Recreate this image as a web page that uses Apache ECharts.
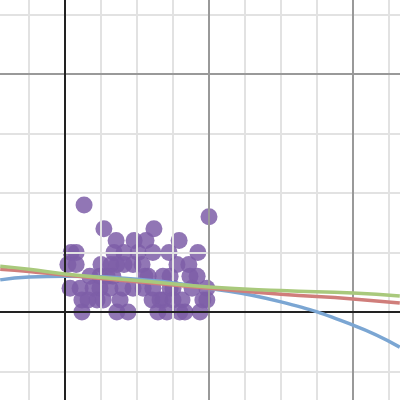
<!DOCTYPE html>
<html>
<head>
<meta charset="utf-8">
<script src="https://cdn.jsdelivr.net/npm/echarts@6/dist/echarts.min.js"></script>
<style>html,body{margin:0;padding:0;background:#fff}#chart{width:400px;height:400px}</style>
</head>
<body>
<div id="chart"></div>
<script>
// scatter points [x, y]
const pointsX = [0.53, 4.0, 1.08, 2.47, 1.42, 1.92, 2.25, 3.17,
  0.17, 0.31, 1.36, 1.64, 2.03, 2.44, 2.89, 3.69,
  0.08, 0.31, 1.0, 1.28, 1.44, 1.64, 1.89, 2.14, 3.11, 3.44,
  0.69, 0.97, 1.17, 1.33, 2.22, 2.31, 2.72, 2.92, 3.47, 3.67,
  0.14, 0.42, 0.78, 0.97, 1.25, 1.61, 1.89, 2.17, 2.44, 2.92, 3.0, 3.53, 3.94,
  0.47, 0.64, 0.89, 1.06, 1.53, 2.42, 2.64, 2.72, 3.0, 3.25, 3.83, 3.94,
  0.47, 1.44, 1.75, 2.58, 2.83, 3.19, 3.33, 3.75]
const pointsY = [1.8, 1.6, 1.4, 1.4, 1.2, 1.2, 1.2, 1.2,
  1.0, 1.0, 1.0, 1.0, 1.0, 1.0, 1.0, 1.0,
  0.8, 0.8, 0.8, 0.8, 0.8, 0.8, 0.8, 0.8, 0.8, 0.8,
  0.6, 0.6, 0.6, 0.6, 0.6, 0.6, 0.6, 0.6, 0.6, 0.6,
  0.4, 0.4, 0.4, 0.4, 0.4, 0.4, 0.4, 0.4, 0.4, 0.4, 0.4, 0.4, 0.4,
  0.2, 0.2, 0.2, 0.2, 0.2, 0.2, 0.2, 0.2, 0.2, 0.2, 0.2, 0.2,
  0, 0, 0, 0, 0, 0, 0, 0]
// fitted curves
const curveX = [-1.8, -1, 0, 2, 4, 6, 8, 9.3]
const blueY = [0.54, 0.59, 0.6, 0.55, 0.4, 0.17, -0.22, -0.59]
const redY = [0.72, 0.68, 0.62, 0.51, 0.4, 0.3, 0.22, 0.15]
const greenY = [0.77, 0.72, 0.64, 0.53, 0.42, 0.36, 0.32, 0.27]
// grid lines
const gridX = [-1, 1, 2, 3, 5, 6, 7, 9]
const majorX = [4, 8]
const gridY = [-1, 1, 2, 3, 5]
const majorY = [4]

const chart = echarts.init(document.getElementById('chart'))

function lines(xs, ys, color, width) {
  const data = []
  xs.forEach(v => data.push({ xAxis: v }))
  ys.forEach(v => data.push({ yAxis: v }))
  return { silent: true, symbol: 'none', label: { show: false }, lineStyle: { color: color, width: width, type: 'solid' }, data: data }
}
function curve(ys, color) {
  return {
    type: 'line', smooth: true, showSymbol: false, z: 5,
    data: curveX.map((x, i) => [x, ys[i]]),
    lineStyle: { color: color, width: 3.5 }
  }
}

chart.setOption({
  animation: false,
  grid: { left: 0, right: 0, top: 0, bottom: 0 },
  xAxis: { type: 'value', min: -1.806, max: 9.306, show: false, splitLine: { show: false } },
  yAxis: { type: 'value', min: -1.479, max: 5.244, show: false, splitLine: { show: false } },
  series: [
    { type: 'line', data: [], z: 1, markLine: lines(gridX, gridY, '#e2e2e2', 2) },
    { type: 'line', data: [], z: 1, markLine: lines(majorX, majorY, '#999999', 2) },
    { type: 'line', data: [], z: 1, markLine: lines([0], [0], '#222222', 2) },
    {
      type: 'scatter', z: 3, symbolSize: 17,
      data: pointsX.map((x, i) => [x, pointsY[i]]),
      itemStyle: { color: '#7e5ea8', opacity: 0.85 }
    },
    curve(blueY, '#7ba6d3'),
    curve(redY, '#d07e7b'),
    curve(greenY, '#a9c97c')
  ]
})
</script>
</body>
</html>
